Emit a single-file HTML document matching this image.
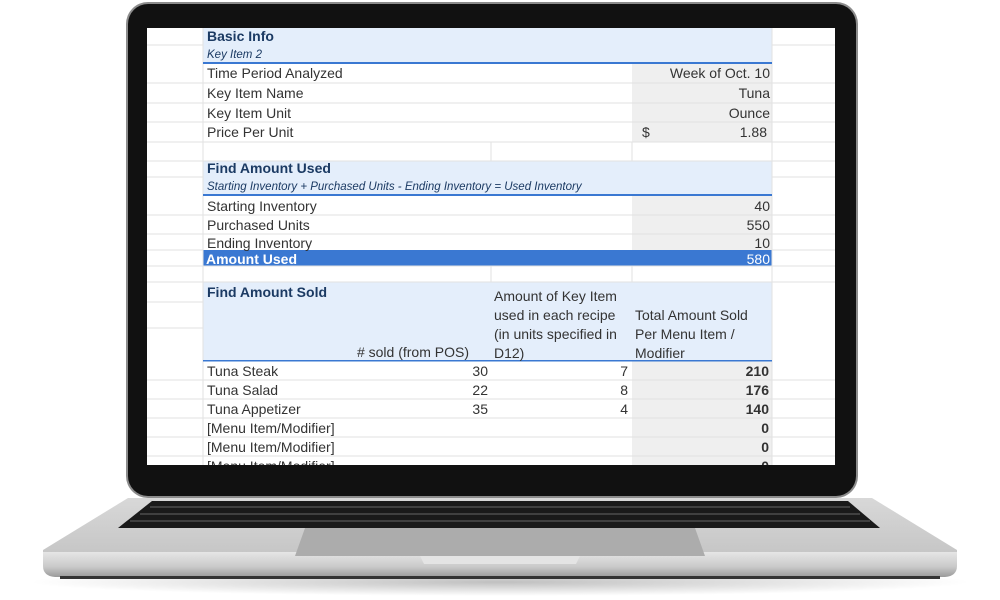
<!DOCTYPE html>
<html><head><style>
body{margin:0;width:1000px;height:600px;overflow:hidden;background:#fff;font-family:"Liberation Sans",Arial,sans-serif;}
.abs{position:absolute;}
.t{position:absolute;font-size:14px;color:#333;white-space:nowrap;line-height:16px;}
.r{text-align:right;}
.h{font-weight:bold;color:#1b3a63;font-size:14px;}
.i{font-style:italic;color:#1b3a63;font-size:11.5px;}
</style></head><body>
<svg class="abs" style="left:0;top:0" width="1000" height="600">
<defs>
<linearGradient id="deck" x1="0" y1="0" x2="0" y2="1"><stop offset="0" stop-color="#d8d8d8"/><stop offset="1" stop-color="#c4c4c4"/></linearGradient>
<linearGradient id="front" x1="0" y1="0" x2="0" y2="1"><stop offset="0" stop-color="#e6e6e6"/><stop offset="0.6" stop-color="#c9c9c9"/><stop offset="1" stop-color="#9a9a9a"/></linearGradient>
<radialGradient id="sh" cx="0.5" cy="0.5" r="0.5"><stop offset="0" stop-color="#000" stop-opacity="0.25"/><stop offset="1" stop-color="#000" stop-opacity="0"/></radialGradient>
</defs>
<ellipse cx="500" cy="582" rx="470" ry="14" fill="url(#sh)"/>
<rect x="126" y="2" width="732" height="496" rx="22" fill="#8c8c8c"/>
<rect x="128" y="4" width="728" height="492" rx="20" fill="#111"/>
<path d="M128 498 L872 498 L957 550 L957 560 L43 560 L43 550 Z" fill="url(#deck)"/>
<path d="M43 552 L957 552 L957 566 Q957 576 945 577 L55 577 Q43 576 43 566 Z" fill="url(#front)"/>
<rect x="60" y="576" width="880" height="3" fill="#333"/>
<path d="M152 501 L848 501 L880 528 L118 528 Z" fill="#1a1a1a"/>
<g stroke="#666" stroke-width="1">
<line x1="150" y1="507" x2="850" y2="507"/><line x1="140" y1="514" x2="860" y2="514"/><line x1="130" y1="521" x2="870" y2="521"/>
</g>
<path d="M305 528 L695 528 L705 556 L295 556 Z" fill="#acacac"/>
<path d="M420 556 L580 556 L576 564 L424 564 Z" fill="#e4e4e4"/>
<rect x="147" y="28" width="688" height="437" fill="#fff"/>
</svg>

<div class="abs" style="left:147px;top:28px;width:688px;height:437px;overflow:hidden;">
<svg class="abs" style="left:0;top:0" width="688" height="437">
<g fill="#e4eefb">
<rect x="56" y="0" width="569" height="35"/>
<rect x="56" y="133" width="569" height="34"/>
<rect x="56" y="254" width="569" height="79"/>
</g>
<g fill="#efefef">
<rect x="485" y="35" width="140" height="79"/>
<rect x="485" y="167" width="140" height="55"/>
<rect x="485" y="333" width="140" height="104"/>
</g>
<rect x="56" y="222" width="569" height="16" fill="#3a78d2"/>
<g stroke="#e2e2e2" stroke-width="1">
<line x1="0" y1="17" x2="56" y2="17"/><line x1="625" y1="17" x2="688" y2="17"/>
<line x1="0" y1="55" x2="688" y2="55"/><line x1="0" y1="75" x2="688" y2="75"/><line x1="0" y1="94" x2="688" y2="94"/><line x1="0" y1="114" x2="688" y2="114"/><line x1="0" y1="133" x2="688" y2="133"/>
<line x1="0" y1="149" x2="56" y2="149"/><line x1="625" y1="149" x2="688" y2="149"/>
<line x1="0" y1="187" x2="688" y2="187"/><line x1="0" y1="206" x2="688" y2="206"/><line x1="0" y1="238" x2="688" y2="238"/><line x1="0" y1="254" x2="688" y2="254"/>
<line x1="0" y1="352" x2="688" y2="352"/><line x1="0" y1="371" x2="688" y2="371"/><line x1="0" y1="390" x2="688" y2="390"/><line x1="0" y1="409" x2="688" y2="409"/><line x1="0" y1="428" x2="688" y2="428"/>
<line x1="0" y1="222" x2="56" y2="222"/><line x1="625" y1="222" x2="688" y2="222"/>
<line x1="0" y1="274" x2="56" y2="274"/><line x1="0" y1="300" x2="56" y2="300"/>
<line x1="56" y1="0" x2="56" y2="437"/><line x1="625" y1="0" x2="625" y2="437"/>
<line x1="344" y1="114" x2="344" y2="133"/><line x1="485" y1="114" x2="485" y2="133"/>
<line x1="344" y1="238" x2="344" y2="254"/><line x1="485" y1="238" x2="485" y2="254"/>
</g>
<g fill="#3a78d2">
<rect x="56" y="34" width="569" height="2"/>
<rect x="56" y="166" width="569" height="2"/>
<rect x="56" y="332" width="569" height="1.5"/>
</g>
</svg>

<div class="t h" style="left:60px;top:0px;">Basic Info</div>
<div class="t i" style="left:60px;top:19px;">Key Item 2</div>
<div class="t" style="left:60px;top:37px;">Time Period Analyzed</div>
<div class="t" style="left:60px;top:57px;">Key Item Name</div>
<div class="t" style="left:60px;top:77px;">Key Item Unit</div>
<div class="t" style="left:60px;top:96px;">Price Per Unit</div>
<div class="t r" style="right:65px;top:37px;">Week of Oct. 10</div>
<div class="t r" style="right:65px;top:57px;">Tuna</div>
<div class="t r" style="right:65px;top:77px;">Ounce</div>
<div class="t" style="left:495px;top:96px;">$</div>
<div class="t r" style="right:68px;top:96px;">1.88</div>

<div class="t h" style="left:60px;top:132px;">Find Amount Used</div>
<div class="t i" style="left:60px;top:151px;">Starting Inventory + Purchased Units - Ending Inventory = Used Inventory</div>
<div class="t" style="left:60px;top:170px;">Starting Inventory</div>
<div class="t" style="left:60px;top:189px;">Purchased Units</div>
<div class="t" style="left:60px;top:207px;">Ending Inventory</div>
<div class="t r" style="right:65px;top:170px;">40</div>
<div class="t r" style="right:65px;top:189px;">550</div>
<div class="t r" style="right:65px;top:207px;">10</div>
<div class="t" style="left:59px;top:223px;color:#fff;font-weight:bold;">Amount Used</div>
<div class="t r" style="right:65px;top:223px;color:#fff;">580</div>

<div class="t h" style="left:60px;top:256px;">Find Amount Sold</div>
<div class="t r" style="right:366px;top:316px;"># sold (from POS)</div>
<div class="t" style="left:347px;top:259px;line-height:19px;">Amount of Key Item<br>used in each recipe<br>(in units specified in<br>D12)</div>
<div class="t" style="left:488px;top:278px;line-height:19px;">Total Amount Sold<br>Per Menu Item /<br>Modifier</div>

<div class="t" style="left:60px;top:335px;">Tuna Steak</div>
<div class="t" style="left:60px;top:354px;">Tuna Salad</div>
<div class="t" style="left:60px;top:373px;">Tuna Appetizer</div>
<div class="t" style="left:60px;top:392px;">[Menu Item/Modifier]</div>
<div class="t" style="left:60px;top:411px;">[Menu Item/Modifier]</div>
<div class="t" style="left:60px;top:430px;">[Menu Item/Modifier]</div>
<div class="t r" style="right:347px;top:335px;">30</div>
<div class="t r" style="right:347px;top:354px;">22</div>
<div class="t r" style="right:347px;top:373px;">35</div>
<div class="t r" style="right:207px;top:335px;">7</div>
<div class="t r" style="right:207px;top:354px;">8</div>
<div class="t r" style="right:207px;top:373px;">4</div>
<div class="t r" style="right:66px;top:335px;font-weight:bold;">210</div>
<div class="t r" style="right:66px;top:354px;font-weight:bold;">176</div>
<div class="t r" style="right:66px;top:373px;font-weight:bold;">140</div>
<div class="t r" style="right:66px;top:392px;font-weight:bold;">0</div>
<div class="t r" style="right:66px;top:411px;font-weight:bold;">0</div>
<div class="t r" style="right:66px;top:430px;font-weight:bold;">0</div>
</div>
</body></html>
